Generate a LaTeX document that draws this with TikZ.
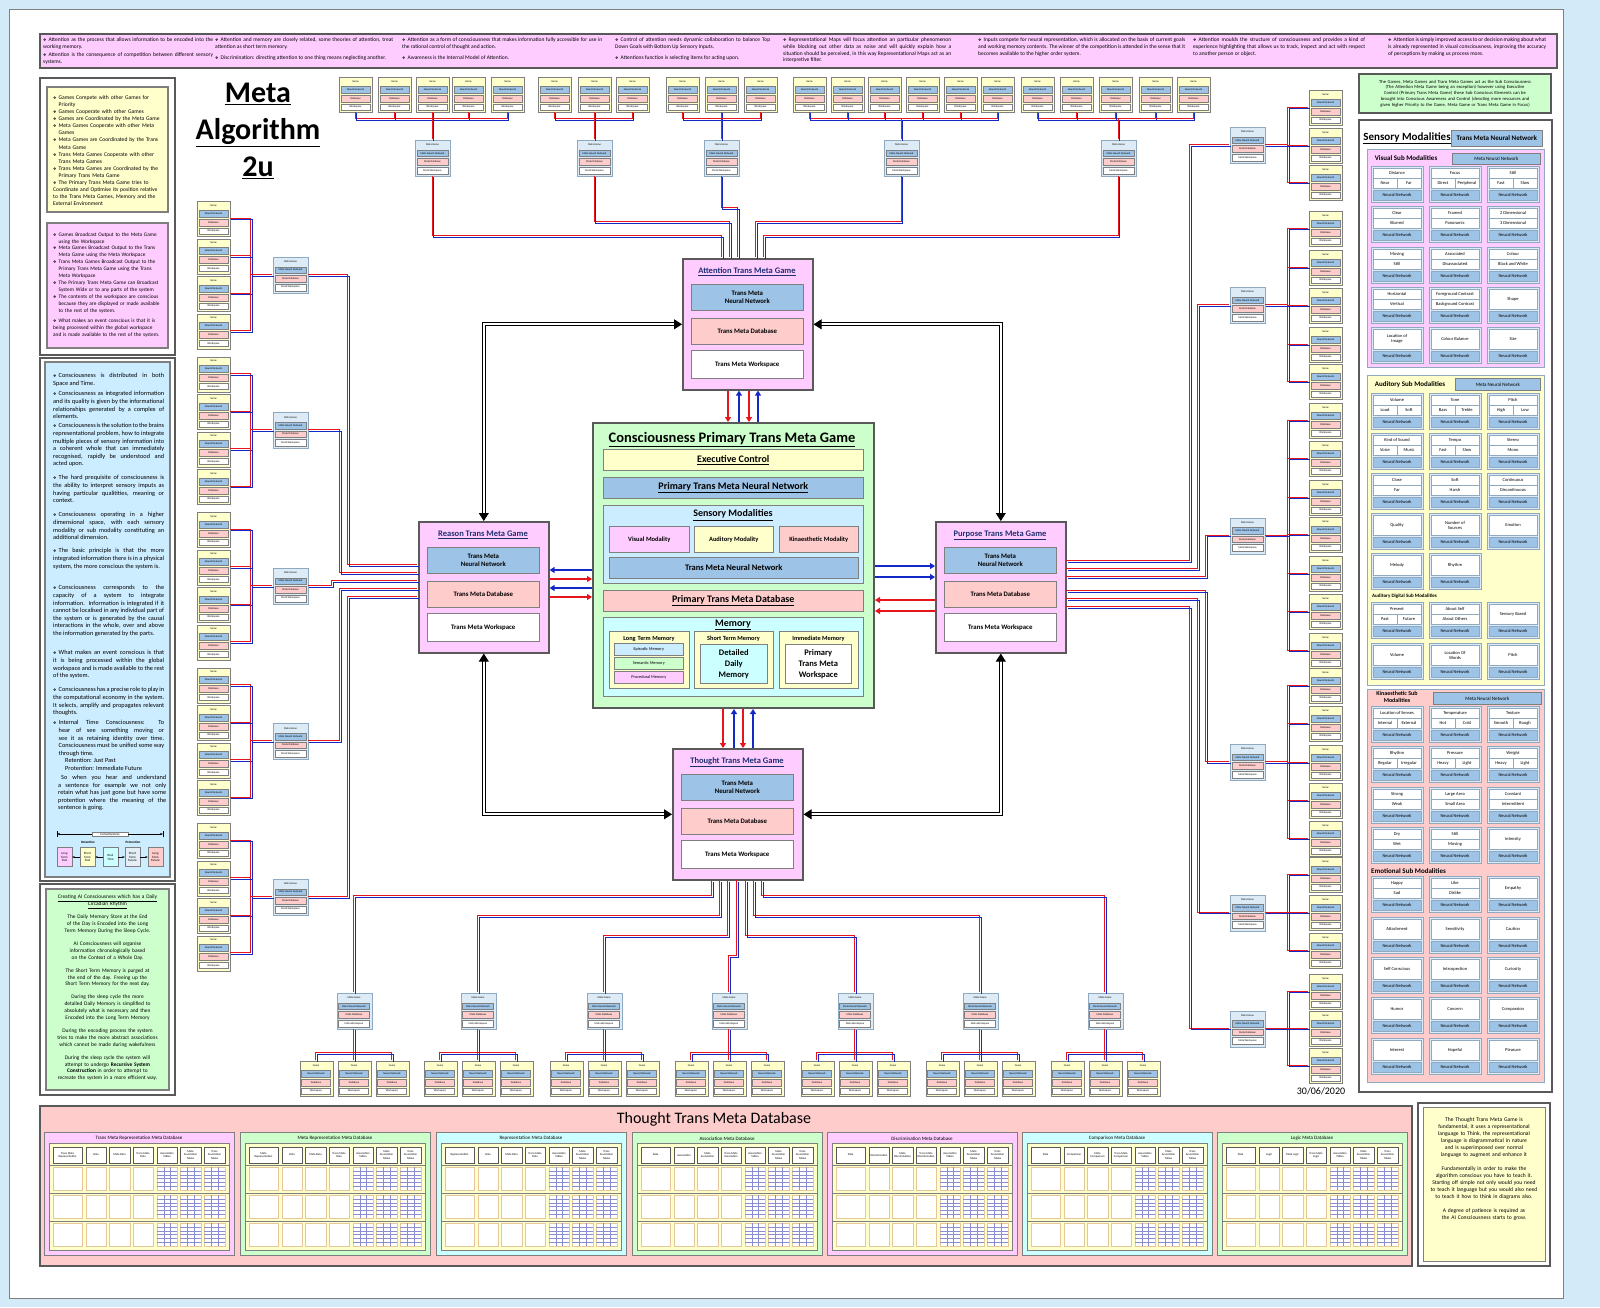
\documentclass[tikz,border=0pt]{standalone}
\usepackage{fontspec}
\setmainfont{Carlito}
\newfontfamily\symf{DejaVu Sans}
\usetikzlibrary{arrows.meta}
\hyphenpenalty=10000
\exhyphenpenalty=10000
\tolerance=9999
\emergencystretch=8pt
\definecolor{cbg}{HTML}{D3EAF8}
\definecolor{cframe}{HTML}{7F7F7F}
\definecolor{cdark}{HTML}{595959}
\definecolor{cpink}{HTML}{FFCCFF}
\definecolor{cyel}{HTML}{FFFFCC}
\definecolor{cblue}{HTML}{9DC3E6}
\definecolor{csal}{HTML}{FFCCCC}
\definecolor{cltb}{HTML}{CCECFF}
\definecolor{cgrn}{HTML}{CCFFCC}
\definecolor{ccyan}{HTML}{CCFFFF}
\definecolor{cmeta}{HTML}{DDEBF7}
\definecolor{cnavy}{HTML}{1F2F6F}
\definecolor{cred}{HTML}{E8141C}
\definecolor{cblu}{HTML}{1428C8}
\definecolor{ccell}{HTML}{DCEBF7}
\definecolor{ccellb}{HTML}{8FA9C0}
\definecolor{ctan}{HTML}{E6C79A}
\definecolor{ctab}{HTML}{8C8CD0}
\definecolor{cstf}{HTML}{E3EEF6}
\newcommand\fs[2]{\fontsize{#1}{#2}\selectfont}
\newcommand\bul{{\symf\fontsize{3.8}{4}\selectfont ❖}}
\newcommand\bitem{\par\hangindent=5.5pt\hangafter=1\noindent\makebox[5.5pt][l]{\bul}}
\newcommand\conn[1]{\draw[cr] #1; \draw[cb] #1;}
\tikzset{
  cr/.style={draw=cred, line width=0.55pt, transform canvas={shift={(-0.9pt,0.9pt)}}},
  cb/.style={draw=cblu, line width=0.55pt, transform canvas={shift={(0.9pt,-0.9pt)}}},
  tf/.style={font=\fs{2.7}{3}, inner sep=0pt, align=center},
  cf/.style={font=\fs{4.5}{5.2}, inner sep=0pt, align=center},
  rbox/.style={draw=cframe, line width=0.6pt, inner sep=0pt, anchor=north west, align=center},
  btxt/.style={anchor=north west, font=\fs{5.5}{6.6}, align=justify, inner sep=0pt},
  ltxt/.style={anchor=north west, font=\fs{5.6}{7}, inner sep=0pt},
  dbl/.style={draw=black, line width=0.8pt, double=white, double distance=2.2pt, {Triangle[length=8pt,width=10pt]}-{Triangle[length=8pt,width=10pt]}},
  arR/.style={draw=cred, line width=1.8pt, -{Triangle[length=5pt,width=6pt]}},
  arB/.style={draw=cblu, line width=1.8pt, -{Triangle[length=5pt,width=6pt]}},
}
% small game box
\newcommand\gamebx[4]{%
 \node[draw=cframe, fill=cyel, line width=0.4pt, minimum width=33pt, minimum height=35pt, inner sep=0pt, anchor=north west] (#1) at (#2,#3) {};
 \node[tf] at ({#2+16.5},{#3+4.5}) {#4};
 \draw[fill=cblue, draw=cframe, line width=0.2pt] ({#2+2},{#3+9}) rectangle ({#2+31},{#3+16});
 \node[tf] at ({#2+16.5},{#3+12.5}) {Neural Network};
 \draw[fill=csal, draw=cframe, line width=0.2pt] ({#2+2},{#3+18}) rectangle ({#2+31},{#3+25});
 \node[tf] at ({#2+16.5},{#3+21.5}) {Database};
 \draw[fill=white, draw=cframe, line width=0.2pt] ({#2+2},{#3+27}) rectangle ({#2+31},{#3+33});
 \node[tf] at ({#2+16.5},{#3+30}) {Workspace};}
% meta game box
\newcommand\metabx[4]{%
 \node[draw=ccellb, fill=cmeta, line width=0.5pt, minimum width=35pt, minimum height=36pt, inner sep=0pt, anchor=north west] (#1) at (#2,#3) {};
 \node[tf] at ({#2+17.5},{#3+5}) {#4};
 \draw[fill=cblue, draw=cframe, line width=0.2pt] ({#2+2},{#3+10}) rectangle ({#2+33},{#3+16.5});
 \node[tf] at ({#2+17.5},{#3+13.25}) {Meta Neural Network};
 \draw[fill=csal, draw=cframe, line width=0.2pt] ({#2+2},{#3+18.5}) rectangle ({#2+33},{#3+25});
 \node[tf] at ({#2+17.5},{#3+21.75}) {Meta Database};
 \draw[fill=white, draw=cframe, line width=0.2pt] ({#2+2},{#3+27}) rectangle ({#2+33},{#3+34});
 \node[tf] at ({#2+17.5},{#3+30.5}) {Meta Workspace};}
% trans meta game
\newcommand\tmg[4]{%
 \node[draw=cdark, line width=1.6pt, fill=cpink, minimum width=130pt, minimum height=131pt, inner sep=0pt, anchor=north west] (#1) at (#2,#3) {};
 \node[font=\fs{8.5}{10}\bfseries, text=cnavy, inner sep=0pt] at ({#2+65},{#3+14}) {\underline{#4}};
 \node[rbox, fill=cblue, minimum width=112pt, minimum height=26pt, font=\fs{6.8}{8}\bfseries] at ({#2+9},{#3+26}) {Trans Meta\\Neural Network};
 \node[rbox, fill=csal, minimum width=112pt, minimum height=26pt, font=\fs{6.8}{8}\bfseries] at ({#2+9},{#3+60}) {Trans Meta Database};
 \node[rbox, fill=white, minimum width=112pt, minimum height=28pt, font=\fs{6.8}{8}\bfseries] at ({#2+9},{#3+92}) {Trans Meta Workspace};}
% modality cells
\newcommand\cellbg[2]{%
 \draw[fill=ccell, draw=ccellb, line width=0.5pt] (#1,#2) rectangle ({#1+52},{#2+36});
 \draw[fill=cblue, draw=ccellb, line width=0.3pt] ({#1+2},{#2+24.5}) rectangle ({#1+50},{#2+34});
 \node[cf] at ({#1+26},{#2+29.3}) {Neural Network};}
\newcommand\cellA[5]{\cellbg{#1}{#2}%
 \draw[fill=white, draw=ccellb, line width=0.3pt] ({#1+2},{#2+2}) rectangle ({#1+50},{#2+12});
 \draw[fill=white, draw=ccellb, line width=0.3pt] ({#1+2},{#2+12}) rectangle ({#1+26},{#2+22.5});
 \draw[fill=white, draw=ccellb, line width=0.3pt] ({#1+26},{#2+12}) rectangle ({#1+50},{#2+22.5});
 \node[cf] at ({#1+26},{#2+7}) {#3};
 \node[cf] at ({#1+14},{#2+17.3}) {#4};
 \node[cf] at ({#1+38},{#2+17.3}) {#5};}
\newcommand\cellB[4]{\cellbg{#1}{#2}%
 \draw[fill=white, draw=ccellb, line width=0.3pt] ({#1+2},{#2+2}) rectangle ({#1+50},{#2+12});
 \draw[fill=white, draw=ccellb, line width=0.3pt] ({#1+2},{#2+12}) rectangle ({#1+50},{#2+22.5});
 \node[cf] at ({#1+26},{#2+7}) {#3};
 \node[cf] at ({#1+26},{#2+17.3}) {#4};}
\newcommand\cellC[3]{\cellbg{#1}{#2}%
 \draw[fill=white, draw=ccellb, line width=0.3pt] ({#1+2},{#2+2}) rectangle ({#1+50},{#2+22.5});
 \node[cf] at ({#1+26},{#2+12.2}) {#3};}
% database panel
\newcommand\dbpanel[7]{%
 \draw[fill=#2, draw=cframe, line width=0.5pt] (#1,1132) rectangle ({#1+190},1255);
 \node[font=\fs{5}{6}, inner sep=0pt] at ({#1+95},1138.5) {#3};
 \draw[fill=cyel, draw=cframe, line width=0.4pt] ({#1+5},1143) rectangle ({#1+185},1250);
 \foreach \xa/\xb/\hh in {9/38/{#4},42/62/{#5},65/86/{#6},89/109/{#7},113/133/{Association\\Tables},136/157/{Meta\\Association\\Tables},160/181/{Trans\\Association\\Tables}}{
   \draw[fill=white, draw=cdark, line width=0.7pt] ({#1+\xa},1147) rectangle ({#1+\xb},1163);
   \node[font=\fs{2.9}{3.3}, align=center, inner sep=0pt] at ({#1+(\xa+\xb)/2},1155) {\hh};}
 \foreach \yl in {1165,1193,1221}{\draw[cframe, line width=0.4pt] ({#1+5},\yl) -- ({#1+185},\yl);}
 \foreach \rr in {0,1,2}{
   \pgfmathsetmacro\ya{1167+28*\rr}
   \pgfmathsetmacro\yb{\ya+23}
   \foreach \xa/\xb in {9/38,42/62,65/86,89/109}{\draw[fill=white, draw=ctan, line width=0.5pt] ({#1+\xa},\ya) rectangle ({#1+\xb},\yb);}
   \foreach \xa/\xb in {113/133,136/157,160/181}{
     \draw[fill=white, draw=ctan, line width=0.5pt] ({#1+\xa},\ya) rectangle ({#1+\xb},\yb);
     \foreach \q in {1,...,5}{\draw[ctab, line width=0.25pt] ({#1+\xa},{\ya+\q*23/6}) -- ({#1+\xb},{\ya+\q*23/6});}
     \draw[ctab, line width=0.25pt] ({#1+\xa+(\xb-\xa)/3},\ya) -- ({#1+\xa+(\xb-\xa)/3},\yb);
     \draw[ctab, line width=0.25pt] ({#1+\xa+2*(\xb-\xa)/3},\ya) -- ({#1+\xa+2*(\xb-\xa)/3},\yb);}
 }}
\begin{document}
\begin{tikzpicture}[x=1pt,y=-1pt]
\useasboundingbox (0,0) rectangle (1600,1307);
\fill[cbg] (0,0) rectangle (1600,1307);
\draw[fill=white, draw=cframe, line width=0.8pt] (9,9) rectangle (1563,1298);

% ---------------- banner
\node[draw=cdark, line width=2pt, fill=cpink, minimum width=1517pt, minimum height=34pt, anchor=north west, inner sep=0pt] (ban) at (39,33) {};
\node[btxt, text width=170pt] (b1a) at (43,35) {\bitem Attention as the process that allows information to be encoded into the working memory.};
\node[btxt, text width=170pt] (b1b) at (43,50) {\bitem Attention is the consequence of competition between different sensory systems.};
\node[btxt, text width=178pt] (b2a) at (215,35) {\bitem Attention and memory are closely related, some theories  of attention, treat attention as short term memory.};
\node[btxt, text width=178pt] (b2b) at (215,53) {\bitem Discrimination: directing attention to one thing means neglecting another.};
\node[btxt, text width=200pt] (b3a) at (402,35) {\bitem Attention as a form of consciousness that makes information fully accessible for use in the rational control of thought and action.};
\node[btxt, text width=200pt] (b3b) at (402,53) {\bitem Awareness is the Internal Model of Attention.};
\node[btxt, text width=155pt] (b4a) at (615,35) {\bitem Control of attention needs dynamic collaboration to balance Top Down Goals with Bottom Up Sensory Inputs.};
\node[btxt, text width=155pt] (b4b) at (615,53) {\bitem Attentions function is selecting items for acting upon.};
\node[btxt, text width=168pt] (b5) at (783,35) {\bitem Representational Maps will focus attention an particular phenomenon while blocking out other data as noise and will quickly explain how a situation should be perceived, in this way Representational Maps act as an interpretive filter.};
\node[btxt, text width=207pt] (b6) at (978,35) {\bitem Inputs compete for neural representation, which is allocated on the basis of current goals and working memory contents. The winner of the competition is attended in the sense that it becomes available to the higher order system.};
\node[btxt, text width=172pt] (b7) at (1193,35) {\bitem Attention moulds the structure of consciousness and provides a kind of experience highlighting that allows us to track, inspect and act with respect to another person or object.};
\node[btxt, text width=158pt] (b8) at (1388,35) {\bitem Attention is simply improved access to or decision making about what is already represented in visual consciousness, improving the accuracy of perceptions by making us process more.};

% ---------------- title
\node[font=\fs{30}{37}\bfseries, align=center, inner sep=0pt] (title) at (258,131) {\underline{Meta}\\\underline{Algorithm}\\\underline{2u}};

% ---------------- left column
\draw[fill=white, draw=cdark, line width=2pt] (40,78) rectangle (175,355);
\draw[fill=cyel, draw=cframe, line width=1.2pt] (47,87) rectangle (168,212);
\node[ltxt, text width=108pt, font=\fs{5.6}{7.1}] (ly) at (53,92) {\raggedright
\bitem Games Compete with other Games for Priority
\bitem Games Cooperate with other Games
\bitem Games are Coordinated by the Meta Game
\bitem Meta Games Cooperate with other Meta Games
\bitem Meta Games are Coordinated by the Trans Meta Game
\bitem Trans Meta Games Cooperate with other Trans Meta Games
\bitem Trans Meta Games are Coordinated by the Primary Trans Meta Game
\bitem The Primary Trans Meta Game tries to Coordinate and Optimise its position relative to the Trans Meta Games, Memory and the External Environment};
\draw[fill=cpink, draw=cframe, line width=1.2pt] (47,223) rectangle (168,348);
\node[ltxt, text width=109pt, font=\fs{5.3}{6.9}] (lp) at (53,229) {\raggedright
\bitem Games Broadcast Output to the Meta Game using the Workspace
\bitem Meta Games Broadcast Output to the Trans Meta Game using the Meta Workspace
\bitem Trans Meta Games Broadcast Output to the Primary Trans Meta Game using the Trans Meta Workspace
\bitem The Primary Trans Meta Game can Broadcast System Wide or to any parts of the system
\bitem The contents of the workspace are conscious because they are displayed or made available to the rest of the system.
\par\vspace{4pt}\rightskip=0pt\bitem What makes an event conscious is that it is being processed within the global workspace and is made available to the rest of the system.};

\draw[fill=white, draw=cdark, line width=2pt] (40,358) rectangle (175,881);
\draw[fill=cltb, draw=cframe, line width=1.2pt] (45,362) rectangle (170,877);
\tikzset{bt/.style={anchor=north west, font=\fs{6.3}{7.6}, inner sep=0pt, text width=111pt, align=justify}}
\node[bt] (c1) at (53,370) {\bitem Consciousness is distributed in both Space and Time.};
\node[bt] (c2) at (53,388) {\bitem Consciousness as integrated information and its quality is given by the informational relationships generated by a complex of elements.};
\node[bt] (c3) at (53,420) {\bitem Consciousness is the solution to the brains representational problem, how to integrate multiple pieces of sensory information into a coherent whole that can immediately recognised, rapidly be understood and acted upon.};
\node[bt] (c4) at (53,472) {\bitem The hard prequisite of consciousness is the ability to interpret sensory imputs as having particular qualitities, meaning or context.};
\node[bt] (c5) at (53,509) {\bitem Consciousness operating in a higher dimensional space, with each sensory modality or sub modality constituting an additional dimension.};
\node[bt] (c6) at (53,545) {\bitem The basic principle is that the more integrated information there is in a physical system, the more conscious the system is.};
\node[bt] (c7) at (53,582) {\bitem Consciousness corresponds to the capacity of a system to integrate information. Information is integrated if it cannot be localised in any individual part of the system or is generated by the causal interactions in the whole, over and above the information generated by the parts.};
\node[bt] (c8) at (53,647) {\bitem What makes an event conscious is that it is being processed within the global workspace and is made available to the rest of the system.};
\node[bt] (c9) at (53,684) {\bitem Consciousness has a precise role to play in the computational economy in the system. It selects, amplify and propagates relevant thoughts.};
\node[bt] (c10) at (53,717) {\bitem Internal Time Consciousness: To hear of see something moving or see it as retaining identity over time. Consciousness must be unified some way through time.\par
\hspace*{12pt}Retention: Just Past\par\hspace*{12pt}Protention: Immediate Future};
\node[bt, text width=108pt] (c11) at (58,775) {\hspace*{3pt}So when you hear and understand a sentence for example we not only retain what has just gone but have some protention where the meaning of the sentence is going.};
% mini diagram
\node[draw=cframe, fill=white, inner sep=1pt, font=\fs{3.3}{4}, minimum width=36pt] (cons) at (110,834) {Consciousness};
\coordinate (cl) at (57,834);
\coordinate (cr2) at (163,834);
\draw[line width=0.4pt, -{Stealth[length=3pt]}] (cons.west) -- (cl);
\draw[line width=0.4pt, -{Stealth[length=3pt]}] (cons.east) -- (cr2);
\draw[line width=0.4pt] (57,831) -- (57,837) (163,831) -- (163,837);
\node[font=\fs{3.3}{4}\bfseries, inner sep=0pt] (ret) at (88,842) {Retention};
\node[font=\fs{3.3}{4}\bfseries, inner sep=0pt] (pro) at (133,842) {Protention};
\tikzset{tb/.style={draw=cframe, line width=0.4pt, minimum width=15pt, minimum height=19pt, inner sep=0pt, font=\fs{3.2}{3.8}, align=center}}
\node[tb, fill=cpink] (ltp) at (64.5,857) {Long\\Term\\Past};
\node[tb, fill=cyel] (stp) at (87.5,857) {Short\\Term\\Past};
\node[tb, fill=ccyan] (rt) at (110.5,857) {Real\\Time};
\node[tb, fill=cstf] (stf) at (132.5,857) {Short\\Term\\Future};
\node[tb, fill=csal] (ltf) at (155.5,857) {Long\\Term\\Future};
\draw[line width=0.5pt, -{Stealth[length=2.5pt]}] (stp) -- (ltp);
\draw[line width=0.5pt, -{Stealth[length=2.5pt]}] (rt) -- (stp);
\draw[line width=0.5pt, -{Stealth[length=2.5pt]}] (rt) -- (stf);
\draw[line width=0.5pt, -{Stealth[length=2.5pt]}] (stf) -- (ltf);

\draw[fill=white, draw=cdark, line width=2pt] (40,884) rectangle (175,1095);
\draw[fill=cgrn, draw=cframe, line width=1.2pt] (46,889) rectangle (169,1090);
\node[anchor=north, font=\fs{5.4}{6.9}, inner sep=0pt, text width=116pt, align=center] (grt) at (107.5,895) {\underline{Creating AI Consciousness which has a Daily}\\\underline{Circadian Rhythm}\par\vspace{6pt}
The Daily Memory Store at the End of the Day is Encoded into the Long Term Memory During the Sleep Cycle.\par\vspace{6pt}
AI Consciousness will organise information chronologically based on the Context of a Whole Day.\par\vspace{6pt}
The Short Term Memory is purged at the end of the day. Freeing up the Short Term Memory for the next day.\par\vspace{6pt}
During the sleep cycle the more detailed Daily Memory is simplified to absolutely what is necessary and then Encoded into the Long Term Memory\par\vspace{6pt}
During the encoding process the system tries to make the more abstract associations which cannot be made during wakefulness\par\vspace{6pt}
During the sleep cycle the system will attempt to undergo \textbf{Recursive System Construction} in order to attempt to recreate the system in a more efficient way.};

% ---------------- central game
\node[draw=cdark, line width=2pt, fill=cgrn, minimum width=281pt, minimum height=285pt, inner sep=0pt, anchor=north west] (cen) at (592,422) {};
\node[font=\fs{14.5}{16}\bfseries, inner sep=0pt] (cent) at (732,440) {\underline{Consciousness Primary Trans Meta Game}};
\node[rbox, fill=cyel, minimum width=260pt, minimum height=21pt, font=\fs{10}{12}\bfseries] (exe) at (603,449) {\underline{Executive Control}};
\node[rbox, fill=cblue, minimum width=260pt, minimum height=21pt, font=\fs{10}{12}\bfseries] (pnn) at (603,477) {\underline{Primary Trans Meta Neural Network}};
\node[rbox, fill=cltb, minimum width=260pt, minimum height=78pt] (sens) at (603,505) {};
\node[font=\fs{10}{12}\bfseries, inner sep=0pt] (senst) at (733,515) {\underline{Sensory Modalities}};
\node[rbox, fill=cpink, minimum width=80pt, minimum height=26pt, font=\fs{6.5}{8}\bfseries] (vis) at (609,526) {Visual Modality};
\node[rbox, fill=cyel, minimum width=79pt, minimum height=26pt, font=\fs{6.5}{8}\bfseries] (aud) at (694,526) {Auditory Modality};
\node[rbox, fill=csal, minimum width=79pt, minimum height=26pt, font=\fs{6.5}{8}\bfseries] (kin) at (779,526) {Kinaesthetic Modality};
\node[rbox, fill=cblue, minimum width=249pt, minimum height=21pt, font=\fs{8.5}{10}\bfseries] (tmnn) at (609,557) {Trans Meta Neural Network};
\node[rbox, fill=csal, minimum width=260pt, minimum height=21pt, font=\fs{10}{12}\bfseries] (pdb) at (603,590) {\underline{Primary Trans Meta Database}};
\node[rbox, fill=ccyan, minimum width=260pt, minimum height=79pt] (mem) at (603,617) {};
\node[font=\fs{10}{12}\bfseries, inner sep=0pt] (memt) at (733,625) {\underline{Memory}};
\node[rbox, fill=cyel, minimum width=80pt, minimum height=57pt] (ltm) at (609,631) {};
\node[font=\fs{6.3}{7}\bfseries, inner sep=0pt] (ltmt) at (649,639) {Long\,\,Term Memory};
\node[rbox, fill=cltb, minimum width=69pt, minimum height=12pt, font=\fs{4.3}{5}] (epi) at (614,643) {Episodic Memory};
\node[rbox, fill=cgrn, minimum width=69pt, minimum height=12pt, font=\fs{4.3}{5}] (sem) at (614,657) {Semantic Memory};
\node[rbox, fill=cpink, minimum width=69pt, minimum height=12pt, font=\fs{4.3}{5}] (prc) at (614,671) {Procedural Memory};
\node[rbox, fill=cyel, minimum width=79pt, minimum height=57pt] (stm) at (694,631) {};
\node[font=\fs{6.3}{7}\bfseries, inner sep=0pt] (stmt) at (733.5,639) {Short Term Memory};
\node[rbox, fill=ccyan, minimum width=67pt, minimum height=39pt, font=\fs{8.5}{11}\bfseries] (ddm) at (700,644) {Detailed\\Daily\\Memory};
\node[rbox, fill=cyel, minimum width=79pt, minimum height=57pt] (imm) at (779,631) {};
\node[font=\fs{6.3}{7}\bfseries, inner sep=0pt] (immt) at (818.5,639) {Immediate Memory};
\node[rbox, fill=white, minimum width=66pt, minimum height=39pt, font=\fs{8.5}{11}\bfseries] (ptw) at (785,644) {Primary\\Trans Meta\\Workspace};

% ---------------- trans meta games
\tmg{att}{682}{258}{Attention Trans Meta Game}
\tmg{rea}{418}{521}{Reason Trans Meta Game}
\tmg{pur}{935}{521}{Purpose Trans Meta Game}
\tmg{tho}{672}{748}{Thought Trans Meta Game}

\draw[dbl] (att.west) -| (rea.north);
\draw[dbl] (att.east) -| (pur.north);
\draw[dbl] (rea.south) |- (tho.west);
\draw[dbl] (pur.south) |- (tho.east);

\draw[arR] (728,0 |- att.south) -- (728,0 |- cen.north);
\draw[arB] (739,0 |- cen.north) -- (739,0 |- att.south);
\draw[arR] (749,0 |- att.south) -- (749,0 |- cen.north);
\draw[arB] (758,0 |- cen.north) -- (758,0 |- att.south);
\draw[arR] (723,0 |- cen.south) -- (723,0 |- tho.north);
\draw[arB] (734,0 |- tho.north) -- (734,0 |- cen.south);
\draw[arR] (743,0 |- cen.south) -- (743,0 |- tho.north);
\draw[arB] (753,0 |- tho.north) -- (753,0 |- cen.south);
\draw[arB] (0,570 -| cen.west) -- (0,570 -| rea.east);
\draw[arR] (0,579 -| rea.east) -- (0,579 -| cen.west);
\draw[arB] (0,588 -| cen.west) -- (0,588 -| rea.east);
\draw[arR] (0,597 -| rea.east) -- (0,597 -| cen.west);
\draw[arB] (0,566 -| cen.east) -- (0,566 -| pur.west);
\draw[arB] (0,577 -| cen.east) -- (0,577 -| pur.west);
\draw[arR] (0,600 -| pur.west) -- (0,600 -| cen.east);
\draw[arR] (0,611 -| pur.west) -- (0,611 -| cen.east);

% ---------------- top clusters
\metabx{MA}{415}{140}{Meta Game}
\metabx{MB}{577}{140}{Meta Game}
\metabx{MC}{704}{140}{Meta Game}
\metabx{MD}{884}{140}{Meta Game}
\metabx{ME}{1101}{140}{Meta Game}
\foreach \xx [count=\ii] in {339,378,416,452,491}{\gamebx{GA\ii}{\xx}{77}{Game}\conn{(GA\ii.south) -- ++(0,7) -| (MA.north)}}
\foreach \xx [count=\ii] in {538,578,616}{\gamebx{GB\ii}{\xx}{77}{Game}\conn{(GB\ii.south) -- ++(0,7) -| (MB.north)}}
\foreach \xx [count=\ii] in {666,705,744}{\gamebx{GC\ii}{\xx}{77}{Game}\conn{(GC\ii.south) -- ++(0,7) -| (MC.north)}}
\foreach \xx [count=\ii] in {793,831,868,906,944,981}{\gamebx{GD\ii}{\xx}{77}{Game}\conn{(GD\ii.south) -- ++(0,7) -| (MD.north)}}
\foreach \xx [count=\ii] in {1021,1060,1099,1139,1177}{\gamebx{GE\ii}{\xx}{77}{Game}\conn{(GE\ii.south) -- ++(0,7) -| (ME.north)}}
\conn{(MA.south) |- (722,236) -- (722,236 |- att.north)}
\conn{(MB.south) |- (730,222) -- (730,222 |- att.north)}
\conn{(MC.south) |- (738,208) -- (738,208 |- att.north)}
\conn{(MD.south) |- (756,222) -- (756,222 |- att.north)}
\conn{(ME.south) |- (764,236) -- (764,236 |- att.north)}

% ---------------- left clusters
\foreach \kk in {0,...,4}{
  \pgfmathsetmacro\mt{256.75+155.5*\kk}
  \metabx{LM\kk}{273}{\mt}{Meta Game}
  \foreach \jj in {0,...,3}{
    \pgfmathsetmacro\yy{201+155.5*\kk+37.5*\jj}
    \gamebx{L\kk\jj}{197}{\yy}{Game}
    \conn{(L\kk\jj.east) -- ++(21,0) |- (LM\kk.west)}
  }
}
\foreach \kk/\xk/\yk in {0/348/565,1/340/573,2/332/581,3/340/589,4/348/597}{
  \conn{(LM\kk.east) -| (\xk,\yk) -- (\xk,\yk -| rea.west)}
}

% ---------------- right clusters
\foreach \kk/\yl/\mt/\xk/\yk in {0/{90,128,165}/127/1190/561, 1/{211,250,288,327,364}/287/1198/569, 2/{403,441,480,517,556,594,633}/517.5/1206/577, 3/{668,706,745,783,821}/744/1206/591, 4/{857,895,933}/894.5/1198/599, 5/{974,1011,1048}/1010.5/1190/607}{
  \metabx{RM\kk}{1230}{\mt}{Meta Game}
  \foreach \yy [count=\jj] in \yl {
    \gamebx{R\kk\jj}{1309}{\yy}{Game}
    \conn{(R\kk\jj.west) -- ++(-21,0) |- (RM\kk.east)}
  }
  \conn{(RM\kk.west) -| (\xk,\yk) -- (\xk,\yk -| pur.east)}
}

% ---------------- bottom clusters
\foreach \kk/\cx/\xk/\yk in {1/354/712/896, 2/478/720/916, 3/604/728/936, 4/729/737/956, 5/855/746/936, 6/980/754/916, 7/1105/762/896}{
  \metabx{BM\kk}{\cx-17.5}{993}{Meta Game}
  \foreach \dx [count=\jj] in {-38,0,38}{
    \gamebx{B\kk\jj}{\cx-16.5+\dx}{1061}{Game}
    \conn{(B\kk\jj.north) -- ++(0,-8) -| (BM\kk.south)}
  }
  \conn{(BM\kk.north) |- (\xk,\yk) -- (\xk,\yk |- tho.south)}
}

\node[font=\fs{10}{12}, inner sep=0pt] (date) at (1321,1091) {30/06/2020};

% ---------------- right panel
\draw[fill=cgrn, draw=cdark, line width=2pt] (1359,74) rectangle (1551,113);
\node[font=\fs{4.6}{5.8}, align=center, text width=186pt, inner sep=0pt] (gtxt) at (1455,93.5) {The Games, Meta Games and Trans Meta Games act as the Sub Consciousness (The Attention Meta Game being an exception) however using Executive Control (Primary Trans Meta Game) these Sub Conscious Elements can be brought into Conscious Awareness and Control (devoting more resources and given higher Priority to the Game, Meta Game or Trans Meta Game in Focus)};
\draw[fill=white, draw=cdark, line width=2pt] (1359,120) rectangle (1552,1092);
\node[font=\fs{11}{13}\bfseries, inner sep=0pt] (smt) at (1407,138) {\underline{Sensory Modalities}};
\node[rbox, fill=cblue, minimum width=91pt, minimum height=16pt, font=\fs{7}{8}\bfseries] (smnn) at (1451,130) {Trans Meta Neural Network};
% visual
\draw[fill=cpink, draw=ccellb, line width=0.6pt] (1367,149) rectangle (1544,367);
\node[font=\fs{7}{8}\bfseries, inner sep=0pt] (vst) at (1406,158) {Visual Sub Modalities};
\node[rbox, fill=cblue, minimum width=88pt, minimum height=11pt, font=\fs{5}{6}] (vsnn) at (1452,152.5) {Meta Neural Network};
\cellA{1371}{166}{Distance}{Near}{Far}
\cellA{1429}{166}{Focus}{Direct}{Peripheral}
\cellA{1487}{166}{Still}{Fast}{Slow}
\cellB{1371}{206}{Clear}{Blurred}
\cellB{1429}{206}{Framed}{Panoramic}
\cellB{1487}{206}{2 Dimensional}{3 Dimensional}
\cellB{1371}{247}{Moving}{Still}
\cellB{1429}{247}{Associated}{Disassociated}
\cellB{1487}{247}{Colour}{Black and White}
\cellB{1371}{287}{Horizontal}{Vertical}
\cellB{1429}{287}{Foreground Contrast}{Background Contrast}
\cellC{1487}{287}{Shape}
\cellC{1371}{327}{Location of\\Image}
\cellC{1429}{327}{Colour Balance}
\cellC{1487}{327}{Size}
% auditory
\draw[fill=cyel, draw=ccellb, line width=0.6pt] (1367,375) rectangle (1544,685);
\node[font=\fs{7}{8}\bfseries, inner sep=0pt] (ast) at (1410,385) {Auditory Sub Modalities};
\node[rbox, fill=cblue, minimum width=85pt, minimum height=12pt, font=\fs{5}{6}] (asnn) at (1455,378) {Meta Neural Network};
\cellA{1371}{393}{Volume}{Loud}{Soft}
\cellA{1429}{393}{Tone}{Bass}{Treble}
\cellA{1487}{393}{Pitch}{High}{Low}
\cellA{1371}{433}{Kind of Sound}{Voice}{Music}
\cellA{1429}{433}{Tempo}{Fast}{Slow}
\cellB{1487}{433}{Stereo}{Mono}
\cellB{1371}{473}{Close}{Far}
\cellB{1429}{473}{Soft}{Harsh}
\cellB{1487}{473}{Continuous}{Discontinuous}
\cellC{1371}{513}{Quality}
\cellC{1429}{513}{Number of\\Sources}
\cellC{1487}{513}{Emotion}
\cellC{1371}{553}{Melody}
\cellC{1429}{553}{Rhythm}
\node[font=\fs{5}{6}\bfseries, inner sep=0pt, anchor=west] (adt) at (1372,596) {Auditory Digital Sub Modalities};
\cellA{1371}{602}{Present}{Past}{Future}
\cellB{1429}{602}{About Self}{About Others}
\cellC{1487}{602}{Sensory Based}
\cellC{1371}{643}{Volume}
\cellC{1429}{643}{Location Of\\Words}
\cellC{1487}{643}{Pitch}
% kinaesthetic
\draw[fill=csal, draw=ccellb, line width=0.6pt] (1367,689) rectangle (1544,1082);
\node[font=\fs{6}{6.5}\bfseries, inner sep=0pt, align=center] (kst) at (1397,697) {Kinaesthetic Sub\\Modalities};
\node[rbox, fill=cblue, minimum width=108pt, minimum height=12pt, font=\fs{5}{6}] (ksnn) at (1433,692) {Meta Neural Network};
\cellA{1371}{706}{Location of Senses}{Internal}{External}
\cellA{1429}{706}{Temperature}{Hot}{Cold}
\cellA{1487}{706}{Texture}{Smooth}{Rough}
\cellA{1371}{746}{Rhythm}{Regular}{Irregular}
\cellA{1429}{746}{Pressure}{Heavy}{Light}
\cellA{1487}{746}{Weight}{Heavy}{Light}
\cellB{1371}{787}{Strong}{Weak}
\cellB{1429}{787}{Large Area}{Small Area}
\cellB{1487}{787}{Constant}{Intermittent}
\cellB{1371}{827}{Dry}{Wet}
\cellB{1429}{827}{Still}{Moving}
\cellC{1487}{827}{Intensity}
\node[font=\fs{7}{8}\bfseries, inner sep=0pt, anchor=west] (emt) at (1371,871) {Emotional Sub Modalities};
\cellB{1371}{876}{Happy}{Sad}
\cellB{1429}{876}{Like}{Dislike}
\cellC{1487}{876}{Empathy}
\cellC{1371}{917}{Attachment}
\cellC{1429}{917}{Sensitivity}
\cellC{1487}{917}{Caution}
\cellC{1371}{957}{Self Conscious}
\cellC{1429}{957}{Introspection}
\cellC{1487}{957}{Curiosity}
\cellC{1371}{997}{Humor}
\cellC{1429}{997}{Concern}
\cellC{1487}{997}{Compassion}
\cellC{1371}{1038}{Interest}
\cellC{1429}{1038}{Hopeful}
\cellC{1487}{1038}{Pleasure}

% ---------------- bottom database
\node[draw=cdark, line width=2.2pt, fill=csal, minimum width=1372pt, minimum height=160pt, inner sep=0pt, anchor=north west] (tdb) at (39,1105) {};
\node[font=\fs{16}{18}, inner sep=0pt] (tdbt) at (714,1119) {Thought Trans Meta Database};
\dbpanel{44}{cpink}{Trans Meta Representation Meta Database}{Trans Meta\\Representation}{Data}{Meta Data}{Trans Meta\\Data}
\dbpanel{240}{cgrn}{Meta Representation Meta Database}{Meta\\Representation}{Data}{Meta Data}{Trans Meta\\Data}
\dbpanel{436}{ccyan}{Representation Meta Database}{Representation}{Data}{Meta Data}{Trans Meta\\Data}
\dbpanel{632}{cgrn}{Association Meta Database}{Data}{Association}{Meta\\Association}{Trans Meta\\Association}
\dbpanel{827}{cpink}{Discrimination Meta Database}{Data}{Discrimination}{Meta\\Discrimination}{Trans Meta\\Discrimination}
\dbpanel{1022}{ccyan}{Comparison Meta Database}{Data}{Comparison}{Meta\\Comparison}{Trans Meta\\Comparison}
\dbpanel{1217}{cgrn}{Logic Meta Database}{Data}{Logic}{Meta Logic}{Trans Meta\\Logic}

% ---------------- bottom right note
\draw[fill=white, draw=cdark, line width=2pt] (1418,1103) rectangle (1550,1266);
\draw[fill=cyel, draw=cframe, line width=1pt] (1423,1107) rectangle (1545,1261);
\node[font=\fs{5.6}{7}, align=center, text width=108pt, inner sep=0pt, anchor=north] (note) at (1484,1117) {The Thought Trans Meta Game is fundamental, it uses a representational language to Think, the representational language is diagrammatical in nature and is superimposed over normal language to augment and enhance it\par\vspace{7pt}
Fundamentally in order to make the algorithm conscious you have to teach it. Starting off simple not only would you need to teach it language but you would also need to teach it how to think in diagrams also.\par\vspace{7pt}
A degree of patience is required as the AI Consciousness starts to grow.};
\end{tikzpicture}
\end{document}
